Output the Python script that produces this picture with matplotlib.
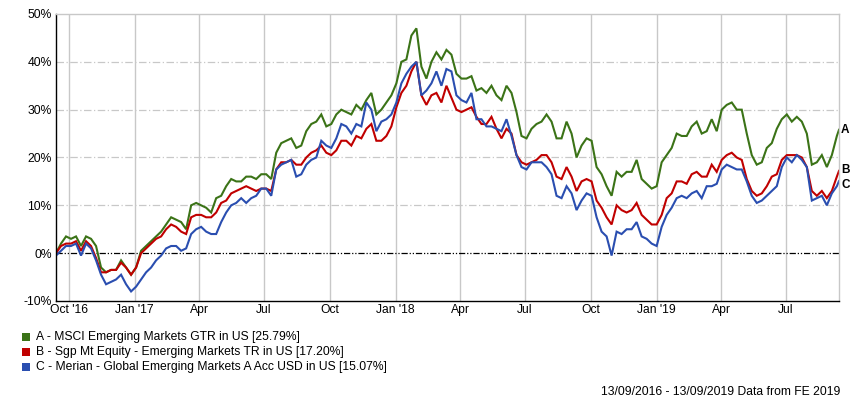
import matplotlib
matplotlib.use("Agg")
import matplotlib.pyplot as plt
import matplotlib.dates as mdates
import pandas as pd
import numpy as np

plt.rcParams['font.family'] = ['Liberation Sans', 'DejaVu Sans']

start_date = "2016-09-13"
end_date = "2019-09-13"

series_a = [0, 2, 3.5, 3, 3.5, 1.5, 3.5, 3, 1.5, -3, -4, -3.5, -3.5, -1.5, -3, -4.5, -3, 0.5, 1.5, 2.5,
            3.5, 4.5, 6, 7.5, 7, 6.5, 5, 10, 10.5, 10, 9.5, 8.5, 11.5, 12, 14, 15.5, 15, 15, 16, 16,
            15.5, 16.5, 16.5, 15.5, 21, 23, 23.5, 24, 22,
            22.5, 25.5, 27, 27.5, 29, 26.5, 27, 29, 30, 29.5, 29, 31, 30, 32, 33.5, 29, 30, 31.5, 33, 35.5,
            40, 40.5, 45.5, 47, 39, 36.5, 40, 42, 40.5, 42.5, 41.5, 37.5, 36.5, 36.5, 37, 34, 34.5, 33.5,
            35, 33, 32, 35, 33.5, 29.5, 24.5, 24, 26, 27, 27.5, 29, 27.5, 24, 24, 27.5, 25, 20,
            22.5, 24, 23.5, 18, 16.5, 14, 12, 17, 16, 17, 17, 19.5, 15.5, 14.5, 13.5, 14, 19, 20.5, 22,
            25, 24.5, 24.5, 26.5, 27.5, 25, 25.5, 28, 25.5, 30, 31, 31.5, 30, 30, 25, 20.5, 18.5, 19, 22,
            23, 26, 28, 29, 27.5, 28.5, 27.5, 25, 18.5, 19, 20.5, 18, 20.5, 24.5, 25.79]

series_b = [0, 1.5, 2, 2, 2.5, 0.5, 2.5, 1.5, -1, -4, -4, -3.5, -3.5, -2, -3, -4.5, -3, 0, 1, 2,
            3, 3.5, 5, 6, 5.5, 4.5, 4, 7.5, 8, 8, 7.5, 7.5, 8.5, 10.5, 11, 12.5, 13, 13.5, 14, 13.5,
            13, 13.5, 13.5, 13, 17.5, 19, 19, 19.5, 18.5,
            18.5, 20, 21, 21.5, 22.5, 21, 20.5, 21.5, 23.5, 23.5, 22.5, 24.5, 24, 26, 27, 23.5, 23.5, 24.5,
            26.5, 30.5, 33.5, 35, 38, 40, 33, 31, 33, 33.5, 31.5, 35, 32.5, 30, 29.5, 30, 30.5, 28.5, 27,
            27, 28.5, 26, 24, 26, 25, 20.5, 19, 18.5, 19, 19.5, 20.5, 20.5, 19, 16, 15.5, 18, 16, 13,
            15, 15.5, 15, 11, 9.5, 7.5, 6, 10, 9, 8.5, 9, 10.5, 8, 7, 6, 6, 8, 11.5, 12.5,
            15, 15, 14.5, 16.5, 17, 16, 16, 18.5, 17, 19.5, 20.5, 21, 20, 19.5, 15.5, 13, 12, 12.5, 14,
            16, 16.5, 19.5, 20.5, 20.5, 20.5, 20, 18, 13, 12, 13, 11.5, 13, 16, 17.20]

series_c = [-0.5, 0.5, 1.5, 1.5, 2, -0.5, 2, 1, -1.5, -4.5, -6.5, -6, -5.5, -4.5, -6.5, -8, -7, -5.5, -4, -3,
            -1.5, -0.5, 1, 1.5, 1.5, 0.5, 1, 4, 5, 5.5, 4.5, 4, 4, 6.5, 8.5, 10, 10.5, 11.5, 10.5, 11.5,
            12, 13.5, 13.5, 12, 17.5, 18.5, 19, 19.5, 16,
            16.5, 18.5, 19.5, 20, 23.5, 22.5, 22, 24, 27, 26.5, 25, 27, 26.5, 31.5, 30, 25.5, 27.5, 28,
            29, 31.5, 35.5, 37.5, 39, 40, 33, 34, 35.5, 38, 35, 38.5, 38, 33, 32, 31.5, 33.5, 28, 28,
            26.5, 26.5, 26, 25.5, 28, 24.5, 20.5, 18, 17.5, 19, 19, 19, 18, 16.5, 12, 11.5, 14, 12.5, 9,
            11, 12.5, 12, 7.5, 4.5, 3.5, -0.5, 4.5, 4, 5, 5, 6.5, 3.5, 3, 2, 1.5, 5.5, 8, 9.5,
            11.5, 12, 11.5, 12.5, 13, 11.5, 14, 14, 14.5, 17.5, 18.5, 18, 17.5, 17.5, 15, 12, 10.5, 11, 12,
            13, 14, 18, 20, 19, 20.5, 19.5, 18, 11, 11.5, 12, 10, 12.5, 14, 15.07]

labels = ["A", "B", "C"]
names = ["A - MSCI Emerging Markets GTR in US [25.79%]",
         "B - Sgp Mt Equity - Emerging Markets TR in US [17.20%]",
         "C - Merian - Global Emerging Markets A Acc USD in US [15.07%]"]
colors = ["#3B7317", "#C00000", "#2A4EB0"]

tick_months = ["2016-10-01", "2017-01-01", "2017-04-01", "2017-07-01", "2017-10-01", "2018-01-01",
               "2018-04-01", "2018-07-01", "2018-10-01", "2019-01-01", "2019-04-01", "2019-07-01"]
tick_labels = ["Oct '16", "Jan '17", "Apr", "Jul", "Oct", "Jan '18", "Apr", "Jul", "Oct", "Jan '19", "Apr", "Jul"]
y_ticks = [-10, 0, 10, 20, 30, 40, 50]

n_weekly = len(series_a) - 1
dates = list(pd.date_range(start_date, periods=n_weekly, freq="7D")) + [pd.Timestamp(end_date)]

fig = plt.figure(figsize=(8.5, 4), dpi=100)
ax = fig.add_axes([56/850, 1-301/400, (839-56)/850, (301-14)/400])

for vals, c in zip([series_a, series_b, series_c], colors):
    ax.plot(dates, vals, color=c, lw=1.5, solid_joinstyle='miter')

ax.set_xlim(pd.Timestamp(start_date), pd.Timestamp(end_date))
ax.set_ylim(-10, 50)
ax.set_yticks(y_ticks)
ax.set_yticklabels([f"{v}%" for v in y_ticks])
ax.set_xticks([pd.Timestamp(d) for d in tick_months])
ax.set_xticklabels(tick_labels)
ax.tick_params(axis='both', length=0, labelsize=8.7, colors='black')
ax.tick_params(axis='x', pad=2)
ax.tick_params(axis='y', pad=3)

for v in y_ticks:
    if v == 0:
        ax.axhline(0, color='black', lw=0.9, linestyle=(0, (5, 1.5, 1, 1.5, 1, 1.5)), zorder=1)
    elif v not in (-10, 50):
        ax.axhline(v, color='#C8C8C8', lw=0.9, linestyle=(0, (6, 2, 1, 2)), zorder=0)
for d in tick_months:
    ax.axvline(pd.Timestamp(d), color='#C8C8C8', lw=1.0, zorder=0)

for s in ['top', 'right']:
    ax.spines[s].set_color('#C8C8C8')
    ax.spines[s].set_linewidth(1.0)
for s in ['left', 'bottom']:
    ax.spines[s].set_color('black')
    ax.spines[s].set_linewidth(1.0)

# end labels
offsets = [0, 1, -3]
for lab, vals, off in zip(labels, [series_a, series_b, series_c], offsets):
    ax.annotate(lab, xy=(pd.Timestamp(end_date), vals[-1]), xytext=(1.5, off), textcoords='offset points',
                ha='left', va='center', fontsize=8.5, fontweight='bold', annotation_clip=False)

# legend
for i, (nm, c) in enumerate(zip(names, colors)):
    y = 1 - (337 + 15*i)/400
    fig.patches.append(plt.Rectangle((22/850, y - 4/400), 8/850, 8/400, transform=fig.transFigure,
                                     facecolor=c, edgecolor='none'))
    fig.text(36/850, y, nm, fontsize=8.7, va='center', ha='left')

fig.text(840/850, 1-392/400, "13/09/2016 - 13/09/2019 Data from FE 2019", fontsize=8.7, ha='right', va='center')

fig.savefig("out.png", dpi=100)
